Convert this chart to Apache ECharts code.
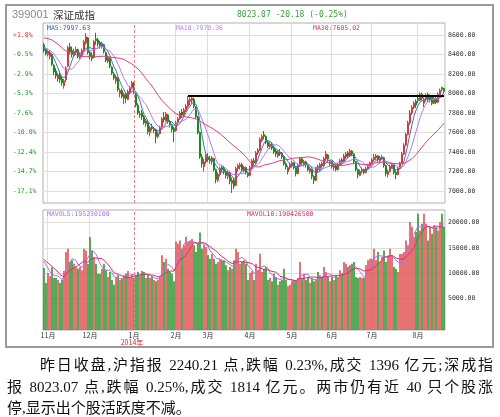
<!DOCTYPE html>
<html><head><meta charset="utf-8">
<script src="https://cdn.jsdelivr.net/npm/echarts@6/dist/echarts.min.js"></script>
<style>
html,body{margin:0;padding:0;background:#fff;}
#wrap{position:relative;width:500px;height:417px;overflow:hidden;background:#fff;}
#chart{position:absolute;left:0;top:0;width:500px;height:417px;}
#para{position:absolute;left:7px;top:355px;width:486px;font-family:"Liberation Serif","Noto Sans CJK SC",serif;font-size:15px;line-height:21.5px;color:#111;}
#para div{text-align:justify;text-align-last:justify;height:21.5px;overflow:hidden;}
#para div.last{text-align-last:left;}
</style></head>
<body><div id="wrap"><div id="chart"></div>
<div id="para">
<div style="padding-left:33px">昨日收盘,沪指报 2240.21 点,跌幅 0.23%,成交 1396 亿元;深成指</div>
<div>报 8023.07 点,跌幅 0.25%,成交 1814 亿元。两市仍有近 40 只个股涨</div>
<div class="last">停,显示出个股活跃度不减。</div>
</div></div>
<script>
// ---------------- data ----------------
const tradingDays = {
 '2013-10':[30,31],
 '2013-11':[1,4,5,6,7,8,11,12,13,14,15,18,19,20,21,22,25,26,27,28,29],
 '2013-12':[2,3,4,5,6,9,10,11,12,13,16,17,18,19,20,23,24,25,26,27,30,31],
 '2014-01':[2,3,6,7,8,9,10,13,14,15,16,17,20,21,22,23,24,27,28,29,30],
 '2014-02':[7,10,11,12,13,14,17,18,19,20,21,24,25,26,27,28],
 '2014-03':[3,4,5,6,7,10,11,12,13,14,17,18,19,20,21,24,25,26,27,28,31],
 '2014-04':[1,2,3,4,8,9,10,11,14,15,16,17,18,21,22,23,24,25,28,29,30],
 '2014-05':[5,6,7,8,9,12,13,14,15,16,19,20,21,22,23,26,27,28,29,30],
 '2014-06':[3,4,5,6,9,10,11,12,13,16,17,18,19,20,23,24,25,26,27,30],
 '2014-07':[1,2,3,4,7,8,9,10,11,14,15,16,17,18,21,22,23,24,25,28,29,30,31],
 '2014-08':[1,4,5,6,7,8,11,12,13,14,15,18,19,20]
};
// [open, close, low, high]
const ohlc = [
[8500,8440,8420,8520],[8450,8410,8390,8470],[8400,8430,8380,8450],[8380,8420,8350,8445],[8400,8300,8280,8410],
[8290,8220,8190,8300],[8230,8180,8150,8260],[8150,8190,8120,8210],[8200,8140,8110,8230],[8150,8110,8080,8170],
[8080,8130,8050,8150],[8140,8260,8120,8280],[8280,8470,8270,8490],[8480,8430,8400,8520],[8440,8400,8370,8480],
[8390,8430,8370,8460],[8420,8450,8400,8480],[8450,8380,8360,8460],[8370,8400,8350,8420],[8400,8440,8380,8460],
[8440,8530,8430,8550],[8520,8580,8500,8620],[8570,8420,8400,8580],[8420,8380,8350,8440],[8390,8360,8330,8420],
[8370,8530,8360,8550],[8560,8540,8500,8623],[8550,8510,8480,8570],[8520,8490,8460,8540],[8480,8510,8460,8530],
[8500,8430,8410,8510],[8420,8340,8320,8430],[8330,8370,8310,8390],[8360,8280,8260,8370],[8270,8210,8190,8280],
[8200,8160,8140,8220],[8130,8170,8100,8190],[8160,8040,8020,8170],[8000,8030,7960,8050],[8030,7970,7950,8050],
[7950,7990,7890,8010],[7990,7950,7900,8010],[7940,8020,7930,8040],[8010,8060,7990,8080],[8060,8110,8040,8130],
[8100,8020,7990,8120],[8010,7880,7860,8020],[7880,7800,7780,7900],[7780,7790,7750,7820],[7800,7760,7730,7830],
[7760,7700,7680,7780],[7690,7720,7660,7740],[7700,7610,7580,7720],[7600,7650,7560,7670],[7660,7640,7620,7690],
[7620,7640,7590,7660],[7630,7560,7490,7640],[7560,7590,7540,7610],[7590,7650,7580,7670],[7650,7740,7640,7760],
[7760,7730,7700,7810],[7720,7790,7710,7810],[7780,7710,7690,7790],[7710,7680,7650,7730],[7680,7630,7600,7690],
[7640,7610,7500,7660],[7620,7700,7610,7720],[7700,7740,7680,7760],[7740,7800,7730,7820],[7810,7780,7750,7840],
[7780,7830,7770,7850],[7830,7870,7810,7890],[7870,7930,7850,7975],[7920,7940,7880,7960],[7930,7950,7900,7970],
[7940,7870,7850,7960],[7860,7760,7740,7870],[7760,7600,7580,7770],[7600,7350,7330,7610],[7350,7280,7240,7380],
[7250,7300,7200,7330],[7300,7350,7280,7380],[7350,7330,7300,7390],[7330,7310,7280,7360],[7300,7340,7270,7360],
[7330,7220,7200,7340],[7220,7120,7080,7230],[7110,7170,7090,7190],[7170,7230,7150,7250],[7240,7220,7190,7270],
[7230,7200,7170,7260],[7200,7160,7130,7220],[7150,7190,7120,7210],[7190,7100,7070,7200],[7080,7110,6980,7140],
[7110,7050,7020,7130],[7060,7230,7050,7250],[7230,7260,7200,7280],[7250,7270,7220,7290],[7270,7220,7200,7290],
[7210,7240,7190,7260],[7240,7190,7170,7250],[7190,7160,7140,7200],[7160,7240,7150,7260],[7240,7310,7230,7330],
[7310,7290,7260,7340],[7290,7390,7280,7410],[7390,7420,7370,7440],[7420,7530,7410,7550],[7520,7560,7500,7580],
[7580,7560,7530,7615],[7560,7500,7480,7570],[7500,7460,7440,7520],[7450,7480,7430,7500],[7480,7440,7420,7500],
[7440,7400,7380,7460],[7410,7380,7350,7430],[7360,7400,7340,7420],[7400,7380,7360,7430],[7390,7350,7330,7400],
[7350,7280,7260,7360],[7280,7250,7220,7300],[7200,7240,7170,7260],[7240,7270,7220,7290],[7260,7290,7240,7310],
[7290,7240,7220,7300],[7240,7180,7150,7250],[7180,7260,7170,7280],[7260,7330,7250,7350],[7330,7290,7270,7340],
[7270,7300,7250,7320],[7300,7270,7240,7310],[7270,7220,7200,7280],[7200,7230,7180,7250],[7220,7150,7120,7230],
[7150,7110,7070,7160],[7110,7240,7100,7250],[7250,7220,7190,7270],[7220,7270,7200,7290],[7280,7260,7240,7300],
[7260,7330,7250,7350],[7330,7380,7310,7410],[7370,7330,7300,7380],[7290,7300,7250,7320],[7300,7250,7230,7310],
[7240,7260,7210,7280],[7260,7220,7200,7270],[7220,7270,7210,7290],[7270,7310,7260,7330],[7320,7300,7280,7340],
[7300,7360,7290,7380],[7350,7380,7330,7400],[7390,7360,7340,7410],[7360,7410,7350,7430],[7410,7380,7360,7420],
[7380,7300,7280,7390],[7300,7220,7200,7310],[7220,7170,7130,7230],[7160,7200,7150,7220],[7200,7220,7180,7240],
[7220,7190,7170,7230],[7190,7230,7180,7250],[7230,7260,7220,7280],[7260,7290,7240,7300],[7290,7320,7270,7340],
[7320,7350,7300,7380],[7340,7360,7320,7380],[7360,7320,7300,7370],[7310,7340,7290,7360],[7330,7350,7320,7370],
[7340,7260,7240,7350],[7260,7180,7150,7270],[7170,7200,7140,7220],[7200,7250,7190,7270],[7240,7270,7230,7290],
[7270,7190,7170,7280],[7190,7170,7120,7210],[7170,7230,7160,7250],[7230,7290,7220,7300],[7290,7380,7280,7400],
[7380,7470,7370,7490],[7470,7580,7460,7600],[7580,7700,7570,7720],[7700,7800,7680,7830],[7800,7860,7780,7880],
[7860,7900,7840,7920],[7920,7880,7850,7940],[7950,7930,7900,7990],[7930,7990,7920,8010],[7990,7950,7930,8010],
[7900,7940,7860,7960],[7940,7980,7920,8000],[7990,7940,7910,8010],[7930,7970,7910,7990],[7970,7900,7880,7980],
[7900,7950,7890,7970],[7950,7910,7890,7980],[7910,7990,7900,8010],[7990,8030,7980,8050],[8060,8043.25,8020,8070],
[8050,8023.07,8000,8060]
];
// volume (axis units)
const volumes = [
11040,8090,10060,9400,11180,9100,9100,8700,8090,8700,
10500,14200,14860,12230,12560,11900,11250,10900,11250,10600,
14860,14530,11900,17150,14530,13220,11900,9930,9930,10920,
11900,10600,9270,10260,8700,7760,9070,9600,8700,9070,
9600,9930,10460,9270,9800,9070,9600,10260,9600,10460,
10260,9070,9600,9070,9400,8700,8420,8700,9270,13550,
12230,12890,10920,10260,9930,8420,16300,15900,16500,14860,
15540,17200,16300,16500,16800,15540,14200,15900,18070,14860,
15540,15200,13550,12890,13880,12890,11900,12230,12890,12560,
12560,11580,10600,11250,10920,12560,14860,14200,11900,12230,
12560,11900,8700,10060,10400,8700,11900,10600,13880,10260,
10920,11250,8700,9070,8420,9930,9270,7760,8420,8700,
10920,8700,7430,7760,8420,8700,8700,9070,12230,9070,
9930,8700,9270,8090,9070,8420,8700,10260,9600,9270,
11250,10260,9270,8420,9270,8700,9600,9270,10600,9930,
12230,11900,11250,11580,11900,12230,9270,9070,9270,9070,
9070,11580,12560,12890,12890,14860,12560,14200,12230,13220,
14530,12230,13220,14860,13550,11250,10920,10260,13880,13880,
14200,16500,15540,20150,19190,17200,18140,21760,18470,19800,
21760,19800,16500,19140,17800,19470,19140,18470,20150,21760,
19140
];
// closes / volumes before the visible window (only feed the moving averages)
const priorCloses = [8520,8550,8600,8580,8620,8650,8600,8660,8700,8680,8740,8700,8660,8690,8640,8600,8620,8580,8550,8520,8500,8480,8520,8470,8450,8490,8460,8430,8450];
const priorVolumes = [12500,13800,12000,14500,13000,12200,12800,13500,12600];

const priceTicks = [7000,7200,7400,7600,7800,8000,8200,8400,8600];
const pctLabels = ['-17.1%','-14.7%','-12.4%','-10.0%','-7.6%','-5.3%','-2.9%','-0.5%','+1.8%'];
const volTicks = [5000,10000,15000,20000];
const maLabels = ['MA5:7997.63','MA10:7970.36','MA30:7605.02'];
const volMaLabels = ['MAVOL5:195230100','MAVOL10:190426500'];
const titleCode = '399001', titleName = '深证成指', quoteText = '8023.07 -20.18 (-0.25%)';
const yearLabel = '2014年', yearStart = '2014-01-02';
const resistanceStart = '2014-02-17', resistanceLevel = 7975;

// ---------------- build ----------------
const dates = [];
Object.keys(tradingDays).forEach(m => tradingDays[m].forEach(d => dates.push(m + '-' + String(d).padStart(2,'0'))));
const monthStart = new Set();
dates.forEach((d,i) => { if (i > 0 && d.slice(0,7) !== dates[i-1].slice(0,7)) monthStart.add(i); });
const closes = ohlc.map(r => r[1]);
function movingAvg(prior, vals, n) {
  const all = prior.concat(vals), p = prior.length;
  return vals.map((_, i) => {
    const end = i + p; if (end - n + 1 < 0) return '-';
    let s = 0; for (let k = end - n + 1; k <= end; k++) s += all[k];
    return +(s / n).toFixed(2);
  });
}
const ma5 = movingAvg(priorCloses, closes, 5);
const ma10 = movingAvg(priorCloses, closes, 10);
const ma30 = movingAvg(priorCloses, closes, 30);
const mavol5 = movingAvg(priorVolumes, volumes, 5);
const mavol10 = movingAvg(priorVolumes, volumes, 10);

const UP = '#e66060', UPB = '#d83838', DN = '#178d17';
const VUP = '#df5050', VDN = '#2e932e';
const gridColor = '#dedede', frameColor = '#b0b0b0';
const mono = '"DejaVu Sans Mono","Liberation Mono",monospace';

const volData = volumes.map((v,i) => [i, v, ohlc[i][1] >= ohlc[i][0] ? 1 : 0]);

const splitX = { show: true, interval: (i) => monthStart.has(i) && dates[i] !== yearStart, lineStyle: { color: gridColor, width: 1 } };

const chart = echarts.init(document.getElementById('chart'), null, { renderer: 'canvas' });
chart.setOption({
  animation: false,
  backgroundColor: '#fff',
  grid: [
    { left: 43, top: 23, width: 402, height: 180, show: true, borderColor: frameColor, borderWidth: 1, backgroundColor: 'transparent' },
    { left: 43, top: 210, width: 402, height: 120, show: true, borderColor: frameColor, borderWidth: 1, backgroundColor: 'transparent' },
    { left: 43, top: 35, width: 402, height: 156 },
    { left: 43, top: 222.7, width: 402, height: 76 }
  ],
  xAxis: [
    { type: 'category', gridIndex: 0, data: dates, boundaryGap: true, axisLine: { show: false }, axisTick: { show: false }, axisLabel: { show: false }, splitLine: splitX },
    { type: 'category', gridIndex: 1, data: dates, boundaryGap: true, axisLine: { show: false }, axisTick: { show: false },
      axisLabel: { show: true, interval: (i) => monthStart.has(i), formatter: (v) => parseInt(v.slice(5,7),10) + '月', fontSize: 7, color: '#333', margin: 2, fontFamily: '"Noto Sans CJK SC",sans-serif' },
      splitLine: splitX },
    { type: 'category', gridIndex: 2, data: dates, show: false },
    { type: 'category', gridIndex: 3, data: dates, show: false }
  ],
  yAxis: [
    { type: 'value', gridIndex: 0, min: 6877, max: 8723, show: false, splitLine: { show: false } },
    { type: 'value', gridIndex: 1, min: -1184, max: 22500, show: false, splitLine: { show: false } },
    { type: 'value', gridIndex: 2, position: 'right', min: priceTicks[0], max: priceTicks[priceTicks.length-1], interval: 200,
      axisLine: { show: false }, axisTick: { show: false },
      axisLabel: { formatter: (v) => Number(v).toFixed(2), fontSize: 6.5, color: '#333', margin: 3, fontFamily: mono },
      splitLine: { show: true, lineStyle: { color: gridColor, width: 1 } } },
    { type: 'value', gridIndex: 2, position: 'left', min: priceTicks[0], max: priceTicks[priceTicks.length-1], interval: 200,
      axisLine: { show: false }, axisTick: { show: false }, splitLine: { show: false },
      axisLabel: { formatter: (v) => pctLabels[priceTicks.indexOf(Number(v))], align: 'left', margin: 30, fontSize: 6.5, fontFamily: mono,
        color: (v) => (pctLabels[priceTicks.indexOf(Number(v))] || '').charAt(0) === '+' ? '#e02828' : '#1f9a1f' } },
    { type: 'value', gridIndex: 3, position: 'right', min: volTicks[0], max: volTicks[volTicks.length-1], interval: 5000,
      axisLine: { show: false }, axisTick: { show: false },
      axisLabel: { formatter: (v) => Number(v).toFixed(2), fontSize: 6.5, color: '#333', margin: 3, fontFamily: mono },
      splitLine: { show: true, lineStyle: { color: gridColor, width: 1 } } }
  ],
  series: [
    { type: 'candlestick', name: 'K', xAxisIndex: 0, yAxisIndex: 0, data: ohlc, barWidth: '75%',
      itemStyle: { color: UP, color0: DN, borderColor: UPB, borderColor0: DN, borderWidth: 1 },
      markLine: { silent: true, symbol: ['none','none'], label: { show: false }, animation: false,
        data: [
          [ { coord: [resistanceStart, resistanceLevel], lineStyle: { color: '#000', width: 2, type: 'solid' } },
            { coord: [dates[dates.length-1], resistanceLevel] } ],
          { xAxis: yearStart, lineStyle: { color: '#f08080', width: 1, type: [3,2] } }
        ] } },
    { type: 'line', name: 'MA5', xAxisIndex: 0, yAxisIndex: 0, data: ma5, symbol: 'none', lineStyle: { color: '#3d72c4', width: 1 } },
    { type: 'line', name: 'MA10', xAxisIndex: 0, yAxisIndex: 0, data: ma10, symbol: 'none', lineStyle: { color: '#b67cf2', width: 1 } },
    { type: 'line', name: 'MA30', xAxisIndex: 0, yAxisIndex: 0, data: ma30, symbol: 'none', lineStyle: { color: '#e2407c', width: 1 } },
    { type: 'custom', name: 'VOL', xAxisIndex: 1, yAxisIndex: 1, data: volData, clip: true,
      renderItem: function (params, api) {
        const idx = api.value(0), v = api.value(1), up = api.value(2);
        const top = api.coord([idx, v]);
        const bw = api.size([1, 0])[0] * 0.8;
        const bottom = params.coordSys.y + params.coordSys.height;
        return { type: 'rect', shape: { x: top[0] - bw/2, y: top[1], width: bw, height: bottom - top[1] },
                 style: { fill: up ? VUP : VDN } };
      },
      markLine: { silent: true, symbol: ['none','none'], label: { show: false },
        data: [ { xAxis: yearStart, lineStyle: { color: '#f08080', width: 1, type: [3,2] } } ] } },
    { type: 'line', name: 'MAVOL5', xAxisIndex: 1, yAxisIndex: 1, data: mavol5, symbol: 'none', z: 5, lineStyle: { color: '#b070f0', width: 1 } },
    { type: 'line', name: 'MAVOL10', xAxisIndex: 1, yAxisIndex: 1, data: mavol10, symbol: 'none', z: 5, lineStyle: { color: '#e0306c', width: 1 } }
  ],
  graphic: [
    { type: 'rect', shape: { x: 6, y: 5, width: 487, height: 342 }, style: { fill: 'none', stroke: '#9a9a9a', lineWidth: 2 }, z: 0, silent: true },
    { type: 'text', x: 12, y: 15, style: { text: titleCode, font: '11px "Liberation Sans",sans-serif', fill: '#8a8a8a', textVerticalAlign: 'middle' } },
    { type: 'text', x: 53, y: 15, style: { text: titleName, font: '10.5px "Noto Sans CJK SC",sans-serif', fill: '#333', textVerticalAlign: 'middle' } },
    { type: 'text', x: 237, y: 15, style: { text: quoteText, font: '8px ' + mono, fill: '#3aa03a', textVerticalAlign: 'middle' } },
    { type: 'text', x: 47, y: 28, z: 10, style: { text: maLabels[0], font: '6.5px ' + mono, fill: '#2f5da0', textVerticalAlign: 'middle' } },
    { type: 'text', x: 176, y: 28, z: 10, style: { text: maLabels[1], font: '6.5px ' + mono, fill: '#b57ef0', textVerticalAlign: 'middle' } },
    { type: 'text', x: 313, y: 28, z: 10, style: { text: maLabels[2], font: '6.5px ' + mono, fill: '#e0306c', textVerticalAlign: 'middle' } },
    { type: 'text', x: 47, y: 214, z: 10, style: { text: volMaLabels[0], font: '6.5px ' + mono, fill: '#b070f0', textVerticalAlign: 'middle' } },
    { type: 'text', x: 247, y: 214, z: 10, style: { text: volMaLabels[1], font: '6.5px ' + mono, fill: '#e0306c', textVerticalAlign: 'middle' } },
    { type: 'text', x: 132, y: 342, style: { text: yearLabel, font: '7px "Noto Sans CJK SC",sans-serif', fill: '#e02020', textAlign: 'center', textVerticalAlign: 'middle' } }
  ]
});
</script></body></html>
